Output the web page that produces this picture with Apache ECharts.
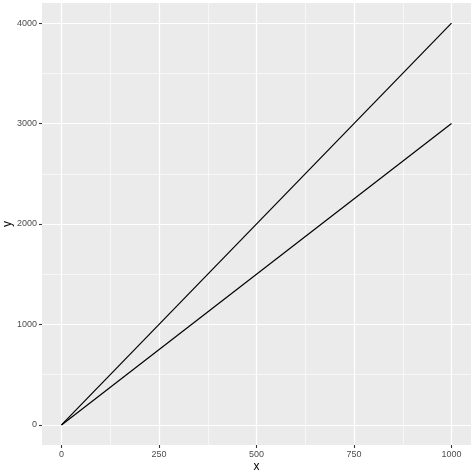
<!DOCTYPE html>
<html>
<head>
<meta charset="utf-8">
<script src="https://cdn.jsdelivr.net/npm/echarts@6/dist/echarts.min.js"></script>
<style>html,body{margin:0;padding:0;background:#fff;}#c{width:474px;height:472px;}</style>
</head>
<body>
<div id="c"></div>
<script>
const xValues = [0, 1000];
const line1 = [0, 4000];
const line2 = [0, 3000];
const xTicks = [0, 250, 500, 750, 1000];
const yTicks = [0, 1000, 2000, 3000, 4000];
const xMinor = [125, 375, 625, 875];
const yMinor = [500, 1500, 2500, 3500];

const chart = echarts.init(document.getElementById('c'), null, {renderer: 'canvas'});
const font = 'Liberation Sans, Arial, sans-serif';
const gridLines = [];
xMinor.forEach(v => gridLines.push({xAxis: v, lineStyle: {width: 0.6}}));
yMinor.forEach(v => gridLines.push({yAxis: v, lineStyle: {width: 0.6}}));
xTicks.forEach(v => gridLines.push({xAxis: v, lineStyle: {width: 1.2}}));
yTicks.forEach(v => gridLines.push({yAxis: v, lineStyle: {width: 1.2}}));

chart.setOption({
  animation: false,
  backgroundColor: '#ffffff',
  grid: {left: 42, right: 3, top: 3, bottom: 27, show: true, backgroundColor: '#EBEBEB', borderWidth: 0,
         containLabel: false, outerBoundsMode: 'none'},
  xAxis: {
    type: 'value', min: -50, max: 1050, interval: 250,
    name: 'x', nameLocation: 'middle', nameGap: 22, nameMoveOverlap: false,
    nameTextStyle: {fontFamily: font, fontSize: 12, color: '#000', verticalAlign: 'middle'},
    axisLine: {show: true, onZero: false, lineStyle: {color: '#EBEBEB', width: 0}},
    axisTick: {show: true, inside: false, length: 3, customValues: xTicks, lineStyle: {color: '#333333', width: 1.1}},
    axisLabel: {customValues: xTicks, color: '#4D4D4D', fontFamily: font, fontSize: 9, margin: 5,
                formatter: v => String(v)},
    splitLine: {show: false}
  },
  yAxis: {
    type: 'value', min: -200, max: 4200, interval: 1000,
    name: 'y', nameLocation: 'middle', nameGap: 34, nameRotate: 90, nameMoveOverlap: false,
    nameTextStyle: {fontFamily: font, fontSize: 12, color: '#000', verticalAlign: 'middle'},
    axisLine: {show: true, onZero: false, lineStyle: {color: '#EBEBEB', width: 0}},
    axisTick: {show: true, inside: false, length: 3, customValues: yTicks, lineStyle: {color: '#333333', width: 1.1}},
    axisLabel: {customValues: yTicks, color: '#4D4D4D', fontFamily: font, fontSize: 9, margin: 5,
                formatter: v => String(v)},
    splitLine: {show: false}
  },
  series: [
    {
      type: 'line', z: 1, data: [[0, 0]], showSymbol: false, symbol: 'none',
      lineStyle: {opacity: 0}, silent: true,
      markLine: {silent: true, z: 1, symbol: 'none', label: {show: false},
        lineStyle: {color: '#ffffff', type: 'solid'}, data: gridLines, animation: false,
        emphasis: {disabled: true}}
    },
    {
      type: 'line', z: 10, symbol: 'none',
      data: xValues.map((x, i) => [x, line1[i]]),
      lineStyle: {color: '#000000', width: 1.2}
    },
    {
      type: 'line', z: 10, symbol: 'none',
      data: xValues.map((x, i) => [x, line2[i]]),
      lineStyle: {color: '#000000', width: 1.2}
    }
  ]
});
</script>
</body>
</html>
